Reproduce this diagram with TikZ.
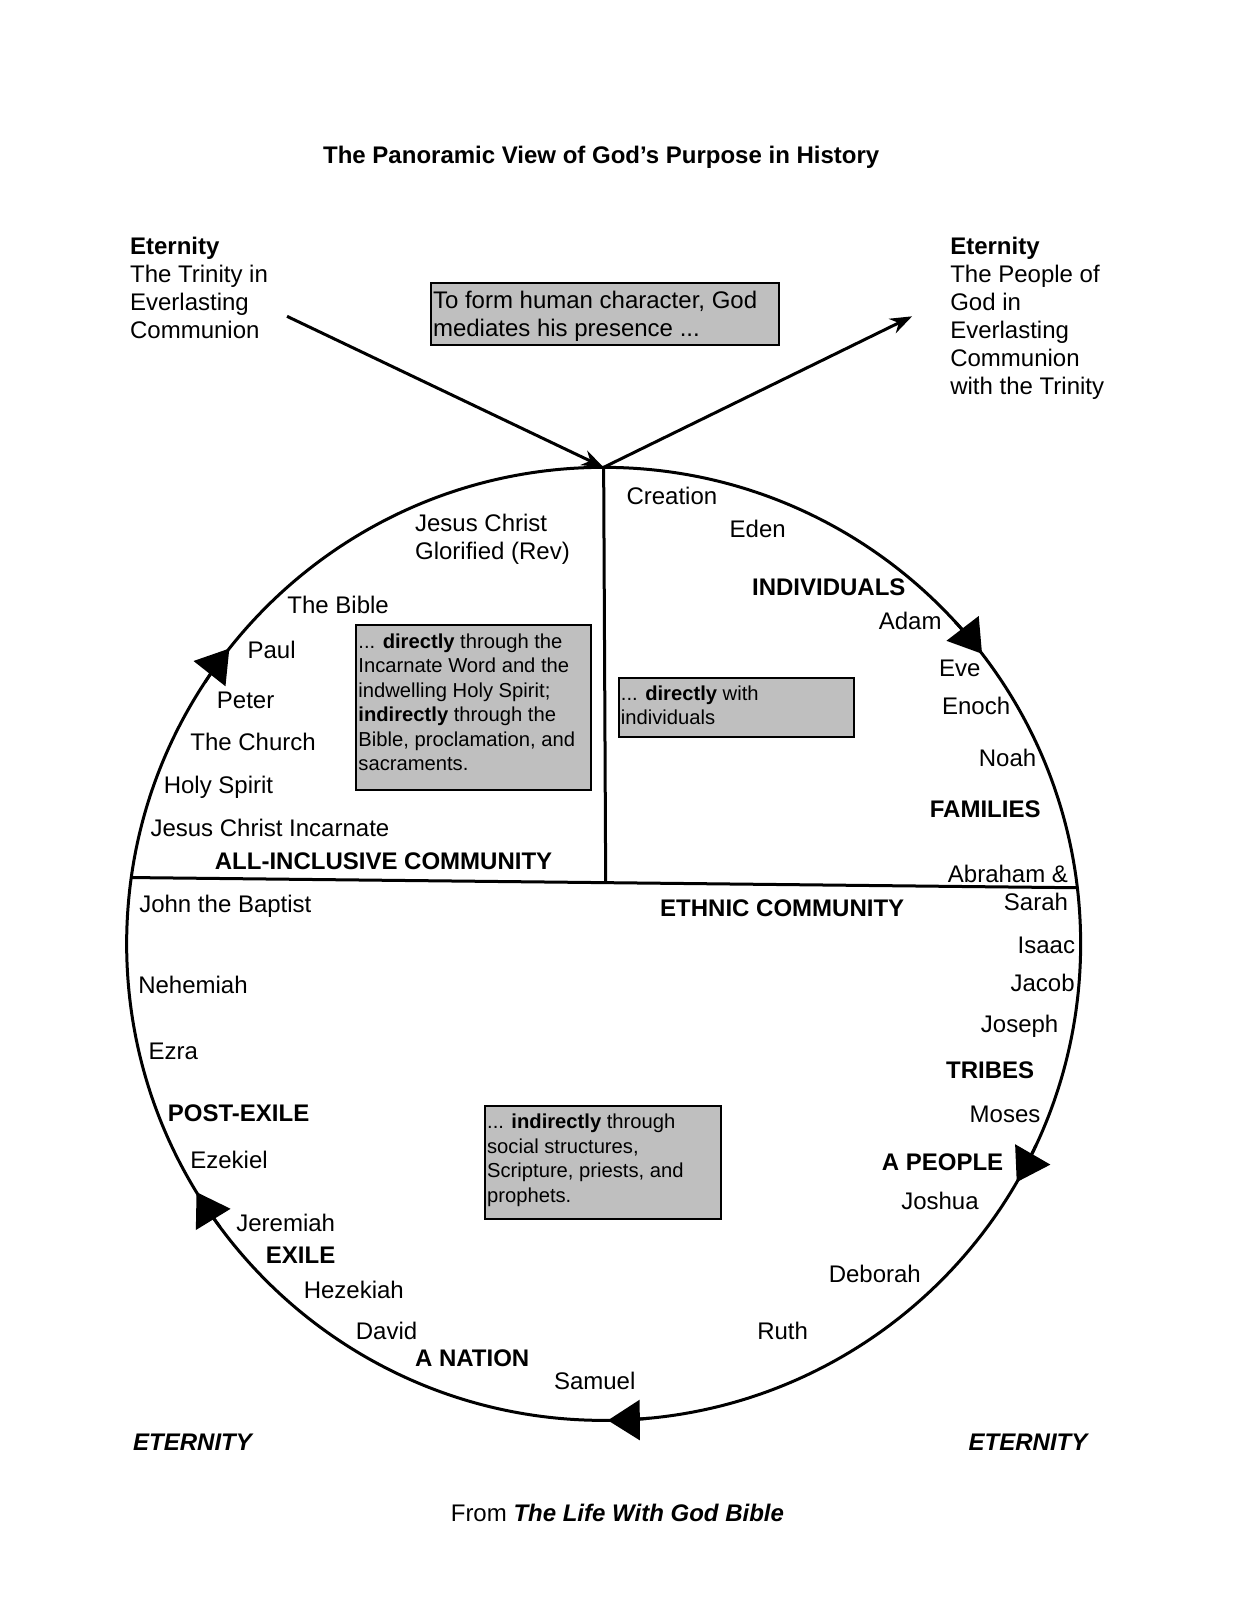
\documentclass[tikz,border=0pt]{standalone}
\usepackage{fontspec}
\setmainfont{Liberation Sans}
\usetikzlibrary{arrows.meta}

\tikzset{
  lbl/.style={inner sep=0pt, anchor=west, text height=8.7pt, text depth=0pt},
  hd/.style={lbl, font=\fontsize{12}{14}\selectfont\bfseries},
  blk/.style={inner sep=0pt, anchor=north west, align=left},
  note/.style={draw, line width=1pt, fill=gray!50, anchor=north west, inner xsep=1pt, inner ysep=4.1pt, font=\fontsize{10.1}{12.25}\selectfont},
  ring/.style={line width=1.5pt},
}

\begin{document}
\begin{tikzpicture}[x=0.5107pt,y=-0.5102pt,font=\fontsize{12}{14}\selectfont]
  \useasboundingbox (0pt,0pt) rectangle (618pt,-800pt);

  % Title
  \node[hd] (title) at (316,152) {The Panoramic View of God’s Purpose in History};

  % Eternity before and after
  \node[blk] (past) at (127,232) {\textbf{Eternity}\\The Trinity in\\Everlasting\\Communion};
  \node[blk] (future) at (930,232) {\textbf{Eternity}\\The People of\\God in\\Everlasting\\Communion\\with the Trinity};

  % Grey boxes
  \node[note, font=\fontsize{12}{14.3}\selectfont] (purpose) at (421,276)
    {\parbox[c][23pt][t]{172pt}{\raggedright To form human character, God\\mediates his presence ...}};
  \node[note] (church) at (348,612)
    {\parbox[c][74pt][t]{115.4pt}{\raggedright ... \textbf{directly} through the\\Incarnate Word and the\\indwelling Holy Spirit;\\\textbf{indirectly} through the\\Bible, proclamation, and\\sacraments.}};
  \node[note] (direct) at (605,663)
    {\parbox[c][21.4pt][t]{115.4pt}{\raggedright ... \textbf{directly} with\\individuals}};
  \node[note] (indirect) at (474,1083)
    {\parbox[c][48.5pt][t]{115.9pt}{\raggedright ... \textbf{indirectly} through\\social structures,\\Scripture, priests, and\\prophets.}};

  % Circle of history
  \coordinate (c) at (591,925);
  \coordinate (top) at (591,458);
  \coordinate (hub) at (593,865);
  \coordinate (west) at (128,860);
  \coordinate (east) at (1055,870);
  \coordinate (from) at (281,310);
  \coordinate (to) at (893,310);

  \draw[ring] (c) circle (467);
  \draw[ring] (top) -- (hub);
  \draw[ring] (west) -- (east);
  \draw[ring, -{Stealth[length=11pt,width=8pt]}] (from) -- (top);
  \draw[ring, -{Stealth[length=11pt,width=8pt]}] (top) -- (to);

  % Arrowheads on the circle
  \foreach \p in {-37.5,30,89.5,148.6,-141.7}
    \draw[ring, -{Triangle[length=16pt,width=20pt]}] ([shift={(c)}]\p-5:467) arc[start angle=\p-5, end angle=\p, radius=467];

  % People along the way
  \foreach \n/\x/\y/\t in {creation/613/486/Creation, eden/714/518/Eden, adam/860/608/Adam,
      eve/919/654/Eve, enoch/922/692/Enoch, noah/958/743/Noah, isaac/996/926/Isaac,
      jacob/989/963/Jacob, joseph/960/1003/Joseph, moses/949/1092/Moses,
      joshua/882/1177/Joshua, deborah/811/1248/Deborah, ruth/741/1304/Ruth,
      samuel/542/1353/Samuel, david/348/1304/David, hezekiah/297/1264/Hezekiah,
      jeremiah/231/1198/Jeremiah, ezekiel/186/1137/Ezekiel, ezra/145/1030/Ezra,
      nehemiah/135/965/Nehemiah, john/136/886/John the Baptist,
      incarnate/147/811/Jesus Christ Incarnate, spirit/160/769/Holy Spirit,
      thechurch/186/727/The Church, peter/212/686/Peter, paul/242/637/Paul,
      bible/281/593/The Bible}
    \node[lbl] (\n) at (\x,\y) {\t};

  \node[blk] (glorified) at (406,503) {Jesus Christ\\Glorified (Rev)};
  \node[blk, anchor=north east, align=right] (abraham) at (1046,847) {Abraham \&\\Sarah};

  % Stages
  \foreach \n/\x/\y/\t in {individuals/736/575/INDIVIDUALS, families/910/793/FAMILIES,
      ethnic/646/890/ETHNIC COMMUNITY, tribes/926/1048/TRIBES, people/863/1139/A PEOPLE,
      nation/406/1331/A NATION, exile/260/1230/EXILE, postexile/164/1091/POST-EXILE,
      allincl/210/844/ALL-INCLUSIVE COMMUNITY}
    \node[hd] (\n) at (\x,\y) {\t};

  \node[hd, font=\fontsize{12}{14}\selectfont\bfseries\itshape] (eterL) at (130,1413) {ETERNITY};
  \node[hd, font=\fontsize{12}{14}\selectfont\bfseries\itshape] (eterR) at (948,1413) {ETERNITY};

  % Source
  \node[lbl] (source) at (441,1483) {From \textbf{\textit{The Life With God Bible}}};
\end{tikzpicture}
\end{document}
